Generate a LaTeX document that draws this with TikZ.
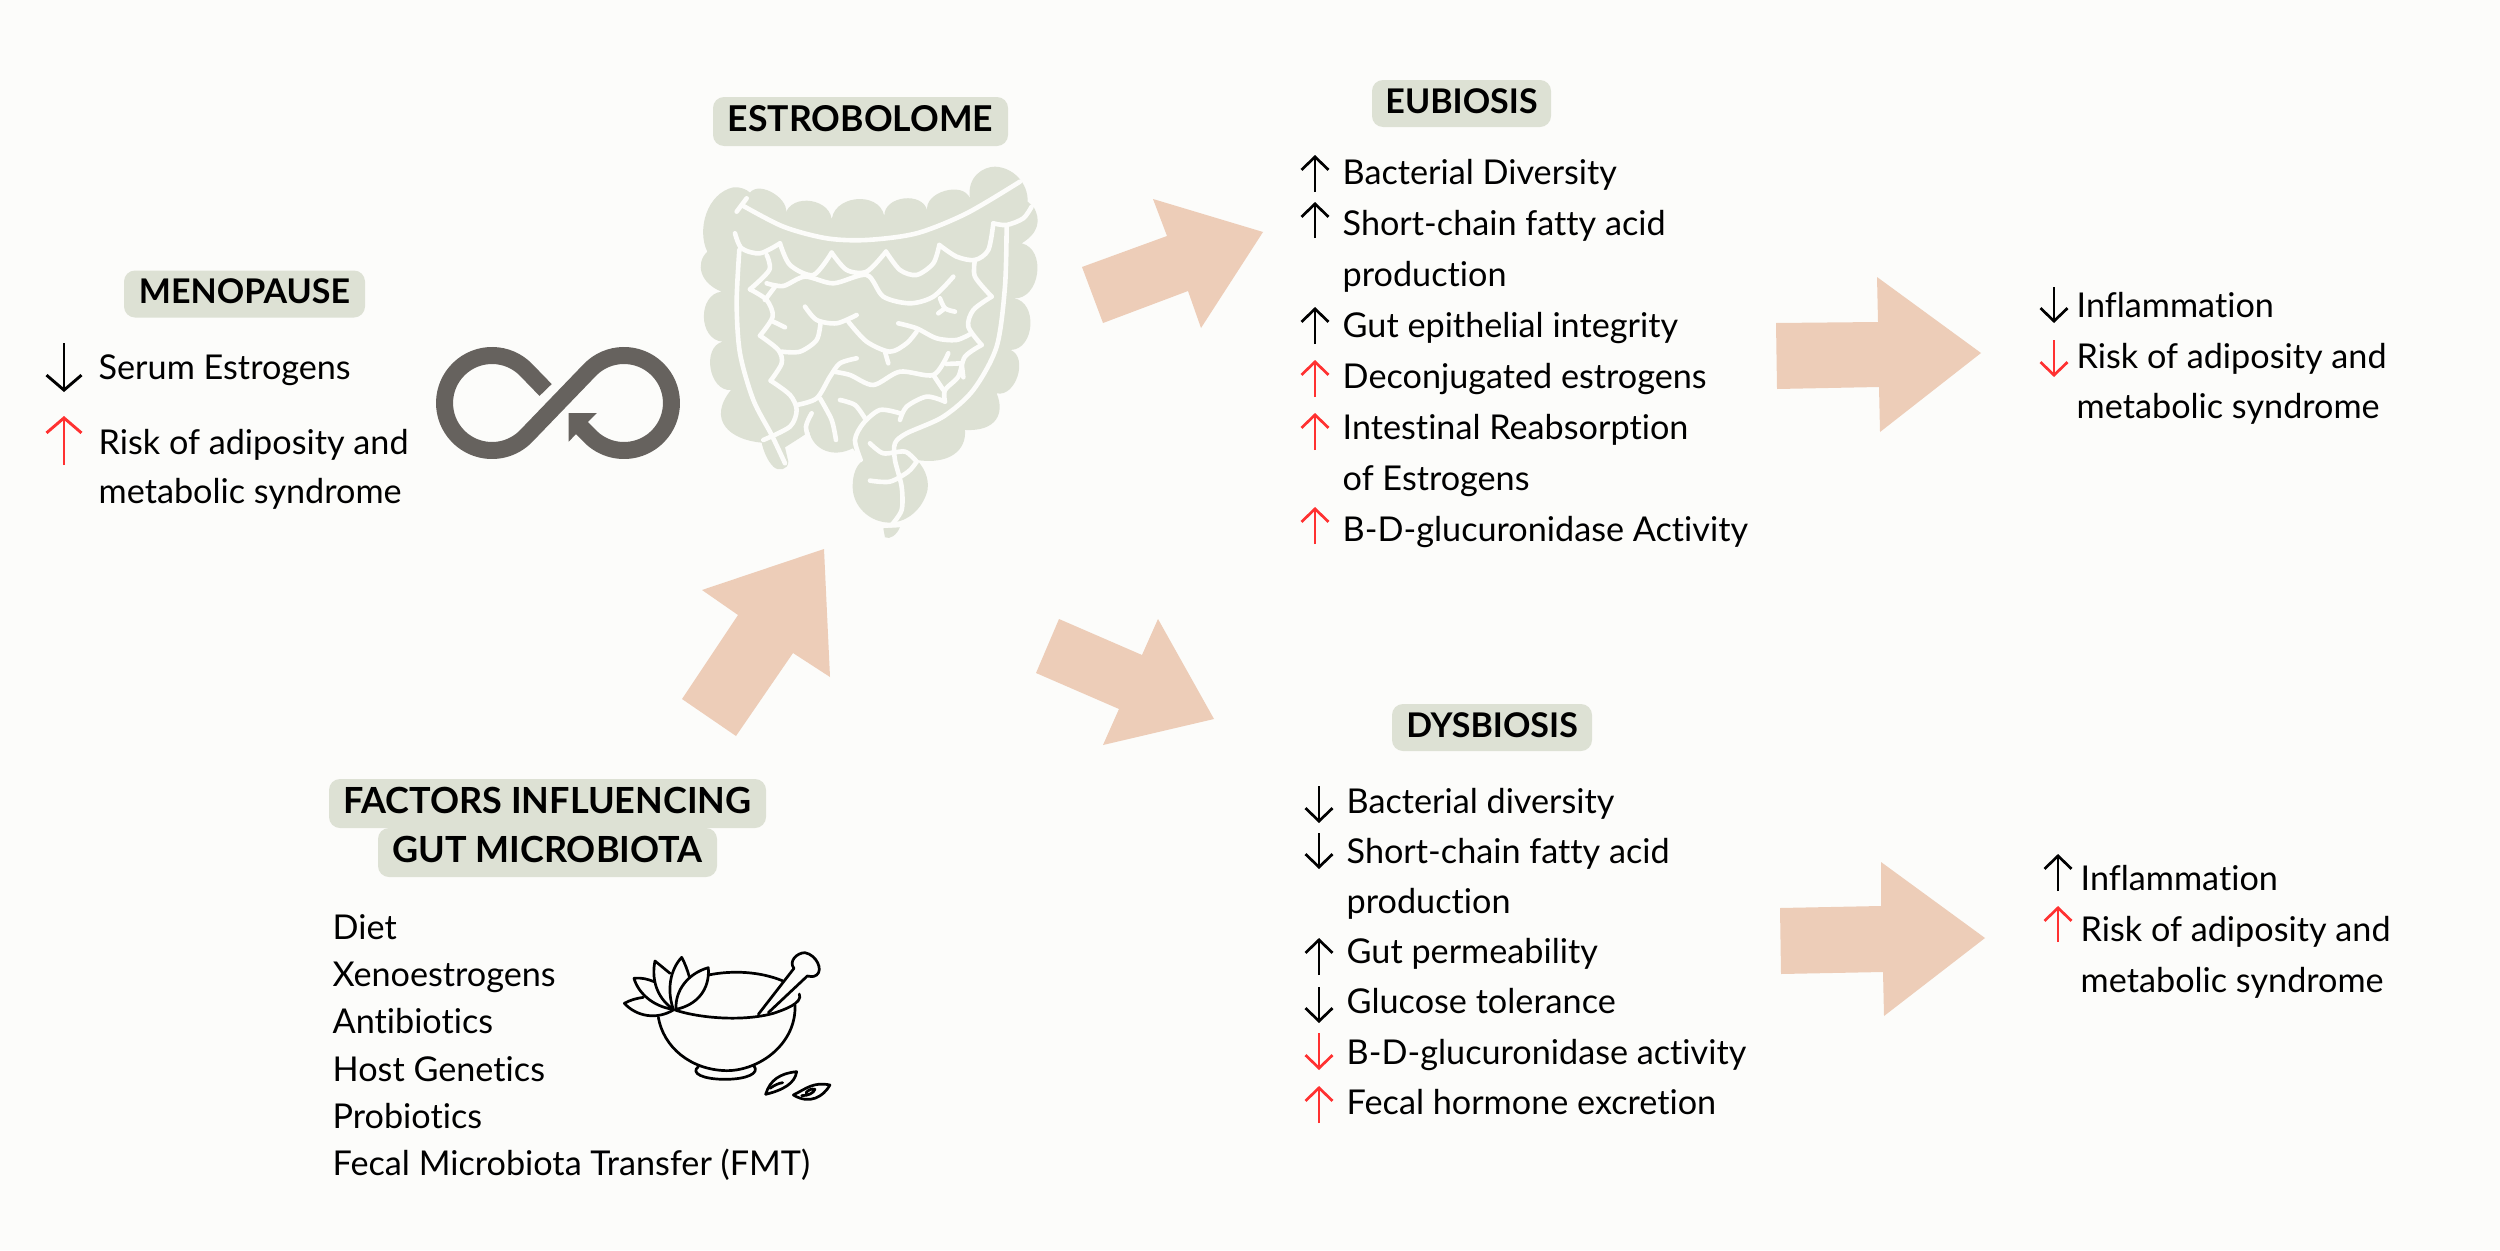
\documentclass[tikz,border=0pt]{standalone}
\usepackage{fontspec}
\setmainfont{Lato}[Ligatures=NoCommon]
\usetikzlibrary{arrows.meta}
\definecolor{paper}{HTML}{FCFCFA}
\definecolor{sage}{HTML}{DDE1D4}
\definecolor{peach}{HTML}{EDCDB8}
\definecolor{loopgrey}{HTML}{66625E}
\definecolor{redarr}{HTML}{FF3131}
\tikzset{
  txt/.style={anchor=base west,inner sep=0pt,font=\fontsize{34.2}{34.2}\selectfont},
  pill/.style={fill=sage,rounded corners=11pt,inner sep=0pt,text height=26pt,text depth=7pt,
    font=\fontsize{36}{36}\selectfont\bfseries},
  pillsm/.style={pill,font=\fontsize{34}{34}\selectfont\bfseries},
  blockarr/.style={fill=peach,draw=none},
  smallarr/.style={line width=2.7pt,-{Straight Barb[length=13pt,width=27pt]}},
  bigarr/.style={line width=2.9pt,-{Straight Barb[length=15pt,width=35pt]}},
  gutline/.style={draw=paper,line width=4.6pt,line cap=round,line join=round},
  herb/.style={draw=black,line width=2.7pt,line join=round,line cap=round},
  lobe/.style={bend left=85,looseness=#1},
}
\begin{document}
\begin{tikzpicture}[x=1pt,y=-1pt]
\useasboundingbox[fill=paper] (0,0) rectangle (2500,1250);
% block arrows
\fill[blockarr] (1082,267) -- (1167,236) -- (1153,199) -- (1263,232) -- (1201,328) -- (1188,291) -- (1103,323) -- cycle;
\fill[blockarr] (682,699) -- (738,615) -- (702,590) -- (824,549) -- (830,677) -- (793,653) -- (736,736) -- cycle;
\fill[blockarr] (1059,619) -- (1142,655) -- (1158,619) -- (1214,719) -- (1103,745) -- (1119,709) -- (1036,673) -- cycle;
\fill[blockarr] (1776,323) -- (1878,322) -- (1877,277) -- (1981,353) -- (1880,432) -- (1879,387) -- (1777,389) -- cycle;
\fill[blockarr] (1780,908) -- (1881,906) -- (1881,862) -- (1985,938) -- (1884,1016) -- (1883,972) -- (1781,974) -- cycle;
% headings
\node[pill,minimum width=295pt,minimum height=49pt,font=\fontsize{35.6}{36}\selectfont\bfseries] (estro) at (860.5,121.5) {ESTROBOLOME};
\node[pillsm,minimum width=241pt,minimum height=47pt] (meno) at (244.5,294) {MENOPAUSE};
\node[pillsm,minimum width=179pt,minimum height=47pt] (eubio) at (1461.5,103.5) {EUBIOSIS};
\node[pillsm,minimum width=200pt,minimum height=47pt] (dysbio) at (1492,727.5) {DYSBIOSIS};
\node[pill,minimum width=437pt,minimum height=49pt] (fact) at (547.5,803.5) {FACTORS INFLUENCING};
\node[pill,minimum width=339pt,minimum height=49pt] (gutmb) at (547.5,852.5) {GUT MICROBIOTA};
% text lists
\foreach \n/\y/\t in {1/379/Serum Estrogens,2/454/Risk of adiposity and,3/503/metabolic syndrome}
  \node[txt] (meno\n) at (98.5,\y) {\t};
\foreach \n/\y/\t in {1/184/Bacterial Diversity,2/235/Short-chain fatty acid,3/286/production,
    4/337/Gut epithelial integrity,5/388/Deconjugated estrogens,6/439/Intestinal Reabsorption,
    7/490/of Estrogens,8/541/B-D-glucuronidase Activity}
  \node[txt] (eub\n) at (1342.5,\y) {\t};
\foreach \n/\y/\t in {1/813/Bacterial diversity,2/863/Short-chain fatty acid,3/913/production,
    4/963/Gut permeability,5/1013/Glucose tolerance,6/1064/B-D-glucuronidase activity,
    7/1114/Fecal hormone excretion}
  \node[txt] (dys\n) at (1346.5,\y) {\t};
\foreach \n/\y/\t in {1/317/Inflammation,2/368/Risk of adiposity and,3/418/metabolic syndrome}
  \node[txt] (res\n) at (2076.5,\y) {\t};
\foreach \n/\y/\t in {1/890/Inflammation,2/941/Risk of adiposity and,3/992/metabolic syndrome}
  \node[txt] (out\n) at (2080.5,\y) {\t};
\foreach \n/\y/\t in {1/939/Diet,2/986/Xenoestrogens,3/1033/Antibiotics,4/1081/Host Genetics,
    5/1128/Probiotics,6/1175/Fecal Microbiota Transfer (FMT)}
  \node[txt] (fac\n) at (332.5,\y) {\t};
% small up and down arrows
\foreach \x/\a/\b/\c in {1315/192/155/black,1315/238/202/black,1315/344/307/black,
    1315/397/360/redarr,1315/450/413/redarr,1315/544/507/redarr,
    1319/786/823/black,1319/833/869/black,1319/975/938/black,1319/987/1023/black,
    1319/1033/1070/redarr,1319/1123/1086/redarr,
    2054/287/323/black,2054/340/377/redarr,2058/891/854/black,2058/942/906/redarr}
  \draw[smallarr,\c] (\x,\a) -- (\x,\b);
\draw[bigarr,black] (64,343) -- (64,392);
\draw[bigarr,redarr] (64,465) -- (64,416);
% infinity loop
\draw[loopgrey,line width=17pt] (545.6,390) -- (526.2,370)
  arc[start angle=-44,end angle=-316,radius=47.5] -- (589.8,370)
  arc[start angle=-136,end angle=136,radius=47.5] -- (578,424);
\fill[loopgrey] (568.6,413) -- (596.8,413) -- (568.6,441.7) -- cycle;
% gut
\begin{scope}[shift={(650,70)},scale=0.3333]
\fill[sage] (300,368) to[lobe=1] (405,435) to[lobe=1.3] (545,458) to[lobe=1.3] (703,438)
  to[lobe=1.2] (832,423) to[lobe=1.1] (960,385) .. controls (950,320) and (1000,290) .. (1035,290)
  .. controls (1090,292) and (1135,340) .. (1133,395) -- (1150,410)
  .. controls (1175,450) and (1165,490) .. (1115,520) to[lobe=1.2] (1092,685) to[lobe=1.2] (1082,840)
  to[lobe=1.1] (1040,970) .. controls (1065,1030) and (1040,1085) .. (945,1080)
  .. controls (950,1140) and (900,1185) .. (800,1170) .. controls (830,1200) and (840,1240) .. (830,1270)
  .. controls (810,1330) and (760,1358) .. (720,1358) .. controls (660,1358) and (608,1310) .. (608,1250)
  .. controls (608,1210) and (620,1185) .. (640,1170) -- (608,1135)
  .. controls (550,1165) and (490,1140) .. (478,1085) -- (440,1110) -- (405,1132) -- (415,1175)
  .. controls (415,1200) and (385,1205) .. (370,1190) .. controls (350,1170) and (340,1140) .. (335,1118)
  .. controls (240,1110) and (170,1050) .. (243,960) to[lobe=1.15] (218,815) to[lobe=1.25] (215,665)
  .. controls (150,640) and (135,580) .. (172,545) .. controls (140,480) and (170,370) .. (250,352)
  .. controls (270,350) and (290,358) .. (300,368) -- cycle;
\fill[sage] (700,1375) -- (750,1372) .. controls (740,1395) and (720,1410) .. (705,1402) -- cycle;
\draw[gutline] (260,425) -- (290,385);
\draw[gutline] plot[smooth] coordinates {(275,405) (400,470) (530,505) (650,510) (800,490) (950,430) (1110,335)};
\draw[gutline] plot[smooth] coordinates {(255,490) (275,535) (330,550) (390,520)};
\draw[gutline] plot[smooth] coordinates {(390,520) (420,585) (490,615) (545,548)};
\draw[gutline] plot[smooth] coordinates {(545,548) (590,600) (650,605) (708,545)};
\draw[gutline] plot[smooth] coordinates {(708,545) (750,600) (800,615) (850,580) (868,525)};
\draw[gutline] plot[smooth] coordinates {(868,525) (920,560) (975,570) (1015,540) (1030,460)};
\draw[gutline] plot[smooth] coordinates {(1030,460) (1070,465) (1120,445) (1145,410)};
\draw[gutline] plot[smooth] coordinates {(268,540) (260,700) (270,850) (310,990) (365,1095) (405,1180)};
\draw[gutline] plot[smooth] coordinates {(1070,470) (1065,650) (1040,830) (970,960) (880,1040) (770,1090) (735,1120) (735,1170) (755,1250) (755,1320) (725,1365)};
\draw[gutline] plot[smooth] coordinates {(350,555) (358,600) (300,658)};
\draw[gutline] plot[smooth] coordinates {(300,658) (350,690) (368,740) (330,797)};
\draw[gutline] plot[smooth] coordinates {(330,797) (385,840) (395,880) (362,932)};
\draw[gutline] plot[smooth] coordinates {(362,932) (420,975) (440,1020) (420,1070) (340,1110)};
\draw[gutline] plot[smooth] coordinates {(350,640) (400,648) (465,620) (550,640) (650,615) (700,680) (780,700) (850,680) (910,620)};
\draw[gutline] (375,650) -- (345,690);
\draw[gutline] plot[smooth] coordinates {(870,685) (885,715) (915,725)};
\draw[gutline] (885,715) -- (865,730);
\draw[gutline] plot[smooth] coordinates {(465,710) (500,750) (560,760) (620,735)};
\draw[gutline] (370,755) -- (405,772);
\draw[gutline] plot[smooth] coordinates {(512,755) (500,810) (450,845) (395,845)};
\draw[gutline] plot[smooth] coordinates {(595,755) (650,815) (720,845) (770,820) (800,785)};
\draw[gutline] (705,845) -- (715,880);
\draw[gutline] plot[smooth] coordinates {(745,760) (800,775) (860,805) (920,810) (965,790)};
\draw[gutline] plot[smooth] coordinates {(975,570) (975,620) (1025,680)};
\draw[gutline] plot[smooth] coordinates {(1025,680) (970,720) (955,770) (995,825)};
\draw[gutline] plot[smooth] coordinates {(995,825) (945,860) (925,920) (885,960) (885,995)};
\draw[gutline] plot[smooth] coordinates {(620,865) (570,880) (540,920) (500,985) (440,1005)};
\draw[gutline] plot[smooth] coordinates {(550,905) (600,915) (670,945) (750,905) (850,915) (895,850)};
\draw[gutline] (850,915) -- (880,960);
\draw[gutline] (890,882) -- (935,880) -- (940,922);
\draw[gutline] plot[smooth] coordinates {(570,990) (615,1005) (645,1045)};
\draw[gutline] plot[smooth] coordinates {(510,985) (545,1050) (558,1110)};
\draw[gutline] plot[smooth] coordinates {(485,1030) (468,1070) (480,1120)};
\draw[gutline] plot[smooth] coordinates {(885,995) (830,980) (770,1010) (750,1050)};
\draw[gutline] plot[smooth] coordinates {(750,1030) (690,1020) (640,1060) (615,1110) (632,1170)};
\draw[gutline] plot[smooth] coordinates {(660,1120) (700,1150) (765,1145) (800,1175)};
\draw[gutline] plot[smooth] coordinates {(660,1232) (720,1235) (775,1205) (800,1175)};
\end{scope}
% mortar and pestle
\begin{scope}[shift={(600,920)},scale=0.3333]
\draw[herb] (325,165) .. controls (400,150) and (480,155) .. (547,182);
\draw[herb] (225,270) .. controls (300,295) and (430,305) .. (520,280) .. controls (550,270) and (610,250) .. (598,222);
\draw[herb] (175,292) .. controls (190,380) and (270,450) .. (380,452) .. controls (480,452) and (590,370) .. (585,255);
\draw[herb] (295,440) .. controls (270,460) and (310,478) .. (375,478) .. controls (440,478) and (480,460) .. (462,438);
\draw[herb] (475,283) -- (582,145) .. controls (565,125) and (590,98) .. (615,98)
  .. controls (650,105) and (670,150) .. (650,165) .. controls (640,172) and (630,170) .. (622,168) -- (505,278);
% lotus
\draw[herb] (220,268) .. controls (200,210) and (210,150) .. (245,112) .. controls (255,130) and (262,150) .. (268,170);
\draw[herb] (220,268) .. controls (165,230) and (155,170) .. (165,123) -- (210,160);
\draw[herb] (220,268) .. controls (160,260) and (115,220) .. (102,175) .. controls (125,172) and (145,178) .. (162,185);
\draw[herb] (220,270) .. controls (170,300) and (110,290) .. (73,250) .. controls (90,240) and (110,235) .. (130,232);
\draw[herb] (228,268) .. controls (225,210) and (265,160) .. (325,143) .. controls (330,210) and (290,255) .. (228,268);
% leaves
\draw[herb] (497,523) .. controls (510,480) and (540,460) .. (590,455) .. controls (585,490) and (550,510) .. (497,523);
\draw[herb] (510,505) .. controls (525,495) and (535,490) .. (548,488);
\draw[herb] (580,525) .. controls (620,505) and (640,485) .. (690,495) .. controls (670,530) and (630,555) .. (580,525);
\draw[herb] (605,527) .. controls (625,527) and (640,520) .. (645,508) .. controls (635,505) and (625,510) .. (618,518);
\end{scope}
\end{tikzpicture}
\end{document}
